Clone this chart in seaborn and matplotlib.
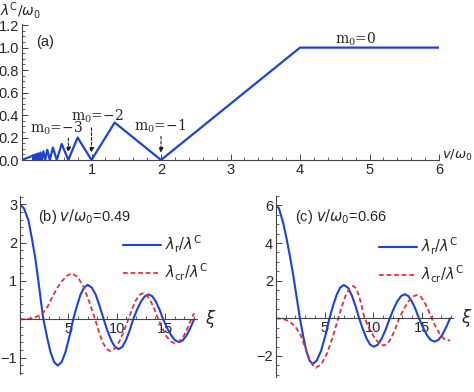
import numpy as np
import pandas as pd
import seaborn as sns
import matplotlib
matplotlib.use('Agg')
import matplotlib.pyplot as plt
from matplotlib.ticker import MultipleLocator, FixedLocator

# (a) lambda^C / omega_0 vs v / omega_0  (zigzag vertices)
v_a = [0.0, 0.16, 0.1667, 0.1739, 0.1818, 0.1905, 0.2, 0.2105, 0.2222, 0.2353, 0.25,
       0.2667, 0.2857, 0.3077, 0.3333, 0.3636, 0.4, 0.4444, 0.5, 0.5714, 0.6667,
       0.8, 1.0, 1.3333, 2.0, 4.0, 6.0]
lam_a = [0.0, 0.04, 0.0, 0.0435, 0.0, 0.0476, 0.0, 0.0526, 0.0, 0.0588, 0.0,
         0.0667, 0.0, 0.0769, 0.0, 0.0909, 0.0, 0.1111, 0.0, 0.1429, 0.0,
         0.2, 0.0, 0.3333, 0.0, 1.0, 1.0]

# (b) v/omega_0 = 0.49
xi_b_r = [0.0, 0.4, 0.87, 1.2, 1.56, 1.9, 2.2, 2.42, 2.79, 3.16, 3.53, 3.9,
          4.3, 4.7, 5.1, 5.5, 5.88, 6.25, 6.63, 7.0, 7.41, 7.83, 8.24, 8.65,
          9.04, 9.43, 9.81, 10.2, 10.58, 10.95, 11.33, 11.7, 12.1, 12.5, 12.9, 13.3,
          13.68, 14.05, 14.43, 14.8, 15.21, 15.63, 16.04, 16.45, 16.84, 17.23, 17.61, 18.0]
lam_b_r = [3.0, 2.9, 2.59, 2.15, 1.63, 1.0, 0.4, 0.0, -0.46, -0.86, -1.12, -1.21,
           -1.12, -0.86, -0.46, 0.0, 0.34, 0.64, 0.83, 0.9, 0.83, 0.64, 0.34, 0.0,
           -0.3, -0.55, -0.72, -0.78, -0.72, -0.55, -0.3, 0.0, 0.25, 0.46, 0.6, 0.65,
           0.6, 0.46, 0.25, 0.0, -0.23, -0.42, -0.55, -0.6, -0.55, -0.42, -0.23, 0.0]
xi_b_cr = [0.0, 0.5, 1.0, 1.56, 2.0, 2.42, 2.85, 3.28, 3.8, 4.3, 4.8, 5.35,
           5.95, 6.56, 7.16, 7.76, 8.15, 8.53, 8.92, 9.3, 9.78, 10.25, 10.73, 11.2,
           11.58, 11.95, 12.33, 12.7, 13.1, 13.5, 13.9, 14.3, 14.73, 15.15, 15.58, 16.0,
           16.45, 16.9, 17.3, 17.7, 18.0]
lam_b_cr = [0.0, 0.0, 0.01, 0.05, 0.1, 0.18, 0.33, 0.55, 0.8, 0.98, 1.13, 1.2,
            1.11, 0.85, 0.46, 0.0, -0.32, -0.59, -0.77, -0.83, -0.77, -0.59, -0.32, 0.0,
            0.26, 0.48, 0.63, 0.68, 0.63, 0.48, 0.26, 0.0, -0.24, -0.45, -0.58, -0.63,
            -0.58, -0.45, -0.24, 0.0, 0.16]

# (c) v/omega_0 = 0.66
xi_c_r = [0.0, 0.3, 0.75, 1.1, 1.44, 1.8, 2.1, 2.46, 2.79, 3.11, 3.44, 3.77,
          4.2, 4.64, 5.07, 5.5, 5.87, 6.24, 6.61, 6.98, 7.37, 7.77, 8.16, 8.55,
          8.93, 9.31, 9.68, 10.06, 10.47, 10.88, 11.29, 11.7, 12.09, 12.47, 12.86, 13.24,
          13.61, 13.97, 14.34, 14.7, 15.1, 15.5, 15.9, 16.3, 16.7, 17.1, 17.5, 17.9]
lam_c_r = [6.0, 5.85, 5.05, 4.2, 3.28, 2.2, 1.2, 0.0, -0.93, -1.72, -2.24, -2.43,
           -2.24, -1.72, -0.93, 0.0, 0.68, 1.25, 1.64, 1.77, 1.64, 1.25, 0.68, 0.0,
           -0.58, -1.07, -1.4, -1.51, -1.4, -1.07, -0.58, 0.0, 0.49, 0.9, 1.18, 1.28,
           1.18, 0.9, 0.49, 0.0, -0.47, -0.88, -1.15, -1.24, -1.15, -0.88, -0.47, 0.0]
xi_c_cr = [0.0, 0.5, 1.0, 1.5, 2.0, 2.5, 3.0, 3.5, 3.8, 4.1, 4.68, 5.25,
           5.83, 6.4, 6.79, 7.17, 7.56, 7.94, 8.23, 8.52, 8.81, 9.1, 9.6, 10.1,
           10.6, 11.1, 11.49, 11.88, 12.27, 12.66, 13.12, 13.58, 14.04, 14.5, 14.88, 15.25,
           15.63, 16.0, 16.43, 16.85, 17.28, 17.9]
lam_c_cr = [0.0, -0.02, -0.08, -0.22, -0.45, -0.85, -1.55, -2.25, -2.5, -2.63, -2.43, -1.86,
            -1.01, 0.0, 0.66, 1.22, 1.59, 1.72, 1.59, 1.22, 0.66, 0.0, -0.55, -1.02,
            -1.34, -1.45, -1.34, -1.02, -0.55, 0.0, 0.47, 0.88, 1.15, 1.24, 1.15, 0.88,
            0.47, 0.0, -0.46, -0.85, -1.1, -1.19]

blue = '#1c42d8'
red = '#e0303c'

sns.set_theme(style='ticks')
plt.rcParams['font.family'] = ['Liberation Sans', 'DejaVu Sans']
plt.rcParams['mathtext.fontset'] = 'dejavusans'
plt.rcParams['xtick.direction'] = 'in'
plt.rcParams['ytick.direction'] = 'in'

fig = plt.figure(figsize=(4.74, 3.92), dpi=100)

# ---- panel (a)
ax = fig.add_axes([22/474, 1-160/392, 417/474, 136/392])
df_a = pd.DataFrame({'v': v_a, 'lam': lam_a})
sns.lineplot(data=df_a, x='v', y='lam', sort=False, estimator=None, color=blue, lw=1.6, ax=ax)
ax.set_xlim(0, 6)
ax.set_ylim(0, 1.21)
ax.set_xlabel('')
ax.set_ylabel('')
for s in ['top', 'right']:
    ax.spines[s].set_visible(False)
for s in ['left', 'bottom']:
    ax.spines[s].set_linewidth(0.8)
    ax.spines[s].set_color('#444444')
ax.xaxis.set_major_locator(FixedLocator([1, 2, 3, 4, 5, 6]))
ax.xaxis.set_minor_locator(MultipleLocator(0.2))
ax.yaxis.set_major_locator(MultipleLocator(0.2))
ax.yaxis.set_minor_locator(MultipleLocator(0.05))
ax.yaxis.set_major_formatter(lambda y, p: f'{y:.1f}')
ax.tick_params(which='major', length=4, width=0.7, labelsize=10.5, pad=2, color='#444444')
ax.tick_params(which='minor', length=2, width=0.6, color='#444444')
ax.text(0.2, 1.05, '(a)', fontsize=10.5, va='center')
serif = dict(family='DejaVu Serif', math_fontfamily='dejavuserif', fontsize=10, ha='center', va='center')
ax.text(0.5, 0.28, 'm$_0$=\u22123', **serif)
ax.text(1.08, 0.39, 'm$_0$=\u22122', **serif)
ax.text(1.99, 0.30, 'm$_0$=\u22121', **serif)
ax.text(4.8, 1.07, 'm$_0$=0', **serif)
arr = dict(arrowstyle='-|>', linestyle=(0, (2.5, 1.8)), color='k', lw=0.8, mutation_scale=7)
ax.annotate('', xy=(0.667, 0.045), xytext=(0.667, 0.22), arrowprops=arr)
ax.annotate('', xy=(1.0, 0.04), xytext=(1.0, 0.31), arrowprops=arr)
ax.annotate('', xy=(2.0, 0.04), xytext=(2.0, 0.235), arrowprops=arr)
fig.text(0.0, 1.0, r'$\lambda^{\rm C}/\omega_0$', fontsize=10, va='top', ha='left')
fig.text(442/474, 1-155/392, r'$v/\omega_0$', fontsize=9.5, va='center', ha='left')


def bottom_panel(rect, xr, yr_, xc, yc, ylim, yticks, yminor, label, lab_x, leg_xy, xi_end):
    axb = fig.add_axes(rect)
    df1 = pd.DataFrame({'xi': xr, 'val': yr_})
    df2 = pd.DataFrame({'xi': xc, 'val': yc})
    sns.lineplot(data=df1, x='xi', y='val', sort=False, estimator=None, color=blue, lw=1.5,
                 ax=axb, label=r'$\lambda_{\rm r}/\lambda^{\rm C}$')
    sns.lineplot(data=df2, x='xi', y='val', sort=False, estimator=None, color=red, lw=1.3,
                 ax=axb, label=r'$\lambda_{\rm cr}/\lambda^{\rm C}$', dashes=False,
                 linestyle=(0, (2.6, 1.6)))
    axb.set_xlim(0, xi_end)
    axb.set_ylim(*ylim)
    axb.set_xlabel('')
    axb.set_ylabel('')
    for s in ['top', 'right']:
        axb.spines[s].set_visible(False)
    axb.spines['bottom'].set_position(('data', 0))
    for s in ['left', 'bottom']:
        axb.spines[s].set_linewidth(0.8)
        axb.spines[s].set_color('#444444')
    axb.xaxis.set_major_locator(FixedLocator([5, 10, 15]))
    axb.xaxis.set_minor_locator(MultipleLocator(1))
    axb.yaxis.set_major_locator(FixedLocator(yticks))
    axb.yaxis.set_minor_locator(MultipleLocator(yminor))
    axb.yaxis.set_major_formatter(lambda y, p: f'{y:g}'.replace('-', '\u2212'))
    axb.tick_params(which='major', length=4, width=0.7, labelsize=10.5, pad=2, color='#444444')
    axb.tick_params(which='minor', length=2, width=0.6, color='#444444')
    axb.text(lab_x, 0.885, label, transform=axb.transAxes, fontsize=10.5, va='center')
    axb.text(1.045, 0, r'$\xi$', transform=axb.get_yaxis_transform(), fontsize=12, va='center')
    axb.legend(loc='upper left', bbox_to_anchor=leg_xy, frameon=False, fontsize=10.5,
               handlelength=2.6, handletextpad=0.3, labelspacing=0.45,
               borderpad=0, borderaxespad=0)
    return axb


bottom_panel([20/474, 1-374/392, 177/474, 178/392], xi_b_r, lam_b_r, xi_b_cr, lam_b_cr,
             (-1.43, 3.22), [-1, 1, 2, 3], 0.2, r'(b) $v/\omega_0$=0.49', 0.1, (0.58, 0.79), 18.3)
bottom_panel([276/474, 1-377/392, 177/474, 181/392], xi_c_r, lam_c_r, xi_c_cr, lam_c_cr,
             (-3.12, 6.5), [-2, 2, 4, 6], 0.5, r'(c) $v/\omega_0$=0.66', 0.11, (0.58, 0.78), 18.2)

fig.savefig('out.png', dpi=100)
